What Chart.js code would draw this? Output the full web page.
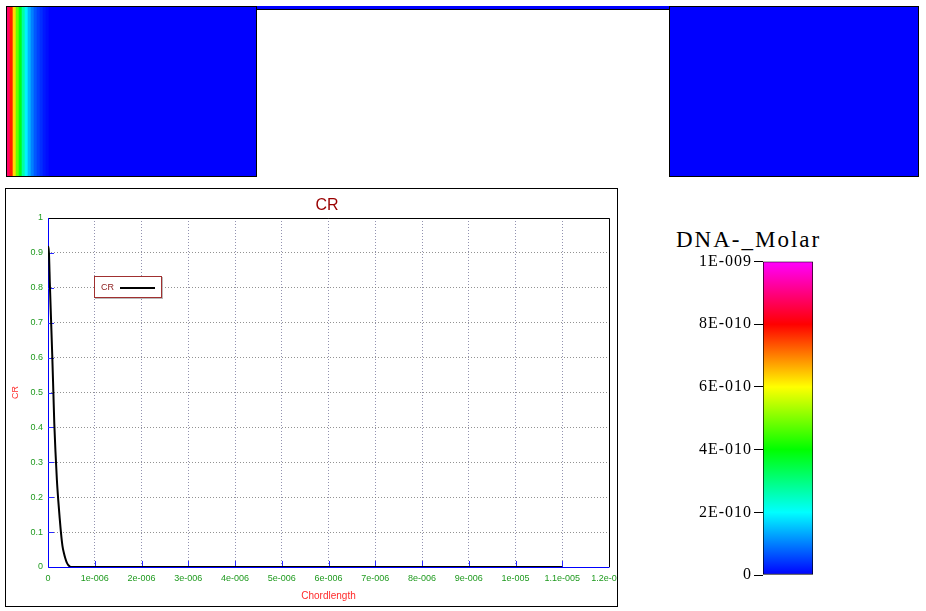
<!DOCTYPE html>
<html><head><meta charset="utf-8">
<script src="https://cdn.jsdelivr.net/npm/chart.js@4/dist/chart.umd.min.js"></script>
<style>
html,body{margin:0;padding:0;background:#fff;width:926px;height:611px;overflow:hidden;position:relative;font-family:"Liberation Sans",Arial,sans-serif}
.abs{position:absolute}
#panelL{left:6px;top:6px;width:249px;height:169px;border:1px solid #000;background:#0000ff;overflow:hidden}
#channel{left:257px;top:6px;width:412px;height:3px;background:#0000ff;border-bottom:1px solid #000}
#panelR{left:669px;top:6px;width:248px;height:169px;border:1px solid #000;background:#0000ff}
#box{left:5px;top:188px;width:611px;height:417px;border:1px solid #000;overflow:hidden;background:#fff}
#legend{left:88px;top:87px;width:66px;height:20px;border:1px solid #a03030;background:#fff;box-shadow:1px 1px 0 #bbb}
#legend span{position:absolute;left:6px;top:5px;font:9px "Liberation Sans",Arial,sans-serif;color:#8b1a1a}
#legend i{position:absolute;left:25px;top:10px;width:35px;height:2px;background:#000}
#mainTitle{left:290px;top:7px;width:62px;text-align:center;font:16px "Liberation Sans",Arial,sans-serif;line-height:18px;color:#990000}
#cbTitle{left:676px;top:228px;font:23px "Liberation Serif","DejaVu Serif",serif;letter-spacing:2px;line-height:23px;color:#000;white-space:nowrap}
</style></head>
<body>
<div id="panelL" class="abs"><canvas id="field" width="249" height="169"></canvas></div>
<div id="channel" class="abs"></div>
<div id="panelR" class="abs"></div>
<div id="box" class="abs">
  <canvas id="main" width="640" height="417" style="position:absolute;left:0;top:0"></canvas>
  <div id="mainTitle" class="abs">CR</div>
  <div id="legend" class="abs"><span>CR</span><i></i></div>
</div>
<div id="cbTitle" class="abs">DNA-_Molar</div>
<canvas id="cbar" class="abs" width="170" height="340" style="left:660px;top:250px"></canvas>
<script>
// ---------- data ----------
const chordlength = [0, 2e-8, 4e-8, 6.5e-8, 9e-8, 1.15e-7, 1.35e-7, 1.6e-7, 1.9e-7, 2.2e-7, 2.5e-7, 2.8e-7, 3.1e-7, 3.4e-7, 3.7e-7, 4.0e-7, 4.3e-7, 4.7e-7, 5.0e-7, 1e-6, 2e-6, 3e-6, 4e-6, 5e-6, 6e-6, 7e-6, 8e-6, 9e-6, 1e-5, 1.1e-5];
const crValues    = [0.92, 0.90, 0.81, 0.71, 0.61, 0.50, 0.41, 0.33, 0.25, 0.19, 0.14, 0.095, 0.06, 0.04, 0.025, 0.013, 0.006, 0.001, 0, 0, 0, 0, 0, 0, 0, 0, 0, 0, 0, 0];
const xTickValues = [0, 1e-6, 2e-6, 3e-6, 4e-6, 5e-6, 6e-6, 7e-6, 8e-6, 9e-6, 1e-5, 1.1e-5, 1.2e-5];
const xTickLabels = ['0','1e-006','2e-006','3e-006','4e-006','5e-006','6e-006','7e-006','8e-006','9e-006','1e-005','1.1e-005','1.2e-005'];
const yTickValues = [0, 0.1, 0.2, 0.3, 0.4, 0.5, 0.6, 0.7, 0.8, 0.9, 1];
const yTickLabels = ['0','0.1','0.2','0.3','0.4','0.5','0.6','0.7','0.8','0.9','1'];
// normalised DNA concentration across the left domain, one value per column (left to right)
const fieldProfile = [0.88, 0.78, 0.63, 0.48, 0.38, 0.27, 0.19, 0.14, 0.10, 0.07, 0.05, 0.035, 0.02, 0.01];
const fieldColumns = 83;
const colorbarTickValues = [0, 2e-10, 4e-10, 6e-10, 8e-10, 1e-9];
const colorbarTickLabels = ['0', '2E-010', '4E-010', '6E-010', '8E-010', '1E-009'];
const colorbarMax = 1e-9;

// ---------- colormap ----------
const cmapStops = [[0,[0,0,255]],[0.2,[0,255,255]],[0.4,[0,255,0]],[0.6,[255,255,0]],[0.8,[255,0,0]],[1,[255,0,255]]];
function cmap(t){
  t = Math.max(0, Math.min(1, t));
  for (let i = 1; i < cmapStops.length; i++){
    const [t1,c1] = cmapStops[i], [t0,c0] = cmapStops[i-1];
    if (t <= t1){
      const f = (t - t0) / (t1 - t0);
      const c = c0.map((v,k)=>Math.round(v + (c1[k]-v)*f));
      return `rgb(${c[0]},${c[1]},${c[2]})`;
    }
  }
  return 'rgb(255,0,255)';
}

// ---------- top field (heat cells) ----------
const fieldValues = fieldProfile.concat(new Array(fieldColumns - fieldProfile.length).fill(0));
new Chart(document.getElementById('field'), {
  type: 'bar',
  data: {
    labels: fieldValues.map((_, i) => i),
    datasets: [{
      data: fieldValues.map(() => 1),
      backgroundColor: fieldValues.map(v => cmap(v)),
      borderWidth: 0, barPercentage: 1, categoryPercentage: 1
    }]
  },
  options: {
    responsive: false, animation: false,
    layout: { padding: 0 },
    plugins: { legend: { display: false }, tooltip: { enabled: false } },
    scales: {
      x: { display: false },
      y: { display: false, min: 0, max: 1 }
    }
  }
});

// ---------- main chart ----------
const frame = {
  id: 'frame',
  beforeDatasetsDraw(chart){
    const { ctx, chartArea: a, scales: { x, y } } = chart;
    ctx.save();
    ctx.lineWidth = 1;
    ctx.strokeStyle = '#000';
    ctx.beginPath();
    ctx.moveTo(a.left, a.top + 0.5); ctx.lineTo(a.right + 0.5, a.top + 0.5);
    ctx.lineTo(a.right + 0.5, a.bottom);
    ctx.stroke();
    ctx.strokeStyle = '#0000ff';
    ctx.beginPath();
    ctx.moveTo(a.left + 0.5, a.top); ctx.lineTo(a.left + 0.5, a.bottom + 0.5);
    ctx.lineTo(a.right + 0.5, a.bottom + 0.5);
    ctx.stroke();
    ctx.strokeStyle = '#2a2aff';
    ctx.beginPath();
    xTickValues.forEach(v => {
      const px = Math.round(x.getPixelForValue(v)) + 0.5;
      if (px > a.left + 2 && px < a.right - 2){ ctx.moveTo(px, a.bottom); ctx.lineTo(px, a.bottom - 6); }
    });
    yTickValues.forEach(v => {
      const py = Math.round(y.getPixelForValue(v)) + 0.5;
      if (py > a.top + 2 && py < a.bottom - 2){ ctx.moveTo(a.left, py); ctx.lineTo(a.left + 6, py); }
    });
    ctx.stroke();
    ctx.restore();
  }
};

const tickFont = { family: '"Liberation Sans", Arial, sans-serif', size: 9 };
const tickColor = '#1f9a1f';
new Chart(document.getElementById('main'), {
  type: 'line',
  data: {
    datasets: [{
      label: 'CR',
      data: chordlength.map((c, i) => ({ x: c, y: crValues[i] })),
      borderColor: '#000', borderWidth: 2, pointRadius: 0,
      cubicInterpolationMode: 'monotone', fill: false
    }]
  },
  options: {
    responsive: false, animation: false,
    layout: { padding: { left: 0, right: 37, top: 29, bottom: 0 } },
    plugins: { legend: { display: false }, tooltip: { enabled: false } },
    scales: {
      x: {
        type: 'linear', min: 0, max: 1.2e-5,
        afterBuildTicks: s => { s.ticks = xTickValues.map(v => ({ value: v })); },
        afterFit: s => { s.height = 39; },
        ticks: { callback: (v, i) => xTickLabels[i], color: tickColor, font: tickFont, padding: 6, maxRotation: 0, autoSkip: false },
        grid: { color: 'rgba(110,110,150,0.75)', lineWidth: 1, drawTicks: false },
        border: { display: false, dash: [1, 2] },
        title: { display: true, text: 'Chordlength', color: '#ff2a2a',
          font: { family: '"Liberation Sans", Arial, sans-serif', size: 10 }, padding: { top: 0, bottom: 4 } }
      },
      y: {
        min: 0, max: 1,
        afterBuildTicks: s => { s.ticks = yTickValues.map(v => ({ value: v })); },
        afterFit: s => { s.width = 42; },
        ticks: { callback: (v, i) => yTickLabels[i], color: tickColor, font: tickFont, padding: 5 },
        grid: { color: 'rgba(110,110,110,0.75)', lineWidth: 1, drawTicks: false },
        border: { display: false, dash: [1, 2] },
        title: { display: true, text: 'CR', color: '#ff2a2a',
          font: { family: '"Liberation Sans", Arial, sans-serif', size: 9 }, padding: { top: 4, bottom: 0 } }
      }
    }
  },
  plugins: [frame]
});

// ---------- colour bar ----------
const spacing = { id: 'spacing', beforeDraw(chart){ chart.ctx.letterSpacing = '1px'; } };
new Chart(document.getElementById('cbar'), {
  type: 'bar',
  data: {
    labels: ['DNA-_Molar'],
    datasets: [{
      data: [[0, colorbarMax]],
      backgroundColor: (c) => {
        const { chart } = c; const a = chart.chartArea;
        if (!a) return '#0000ff';
        const g = chart.ctx.createLinearGradient(0, a.bottom, 0, a.top);
        cmapStops.forEach(([t, col]) => g.addColorStop(t, `rgb(${col.join(',')})`));
        return g;
      },
      borderColor: '#000', borderWidth: 1, borderSkipped: false,
      barPercentage: 1, categoryPercentage: 1
    }]
  },
  options: {
    responsive: false, animation: false,
    layout: { padding: { left: 0, right: 17, top: 11, bottom: 15 } },
    plugins: { legend: { display: false }, tooltip: { enabled: false } },
    scales: {
      x: { display: false },
      y: {
        min: 0, max: colorbarMax,
        afterBuildTicks: s => { s.ticks = colorbarTickValues.map(v => ({ value: v })); },
        afterFit: s => { s.width = 103; },
        ticks: { callback: (v, i) => colorbarTickLabels[i], color: '#000',
          font: { family: '"Liberation Serif", "DejaVu Serif", serif', size: 16 }, padding: 2 },
        grid: { drawOnChartArea: false, drawTicks: true, tickLength: 9, tickColor: '#000', color: '#000' },
        border: { display: false }
      }
    }
  },
  plugins: [spacing]
});
</script>
</body></html>
